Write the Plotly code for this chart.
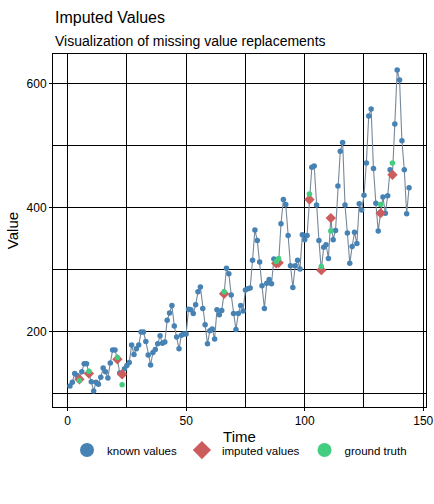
import plotly.graph_objects as go

# AirPassengers-like series with gaps (None = missing)
time = list(range(1, 145))
known = [
    112, 118, 132, 129, None, 135, 148, 148, None, 119, 104, 118,
    115, 126, 141, 135, 125, 149, 170, 170, None, 133, None, 140,
    145, 150, 178, 163, 172, 178, 199, 199, 184, 162, 146, 166,
    171, 180, 193, 181, 183, 218, 230, 242, 209, 191, 172, 194,
    196, 196, 236, 235, 229, 243, 264, 272, 237, 211, 180, 201,
    204, 188, 235, 227, 234, None, 302, 293, 259, 229, 203, 229,
    242, 233, 267, 269, 270, 315, 364, 347, 312, 274, 237, 278,
    284, 277, 317, None, None, 374, 413, 405, 355, 306, 271, 306,
    315, 301, 356, 348, 355, None, 465, 467, 404, 347, None, 336,
    340, 318, None, 348, 363, 435, 491, 505, 404, 359, 310, 337,
    360, 342, 406, 396, 420, 472, 548, 559, 463, 407, 362, None,
    417, 391, 419, 461, None, 535, 622, 606, 508, 461, 390, 432,
]
missing_idx = [5, 9, 21, 23, 66, 88, 89, 102, 107, 111, 132, 137]
imputed = [123, 132, 155, 131, 261, 310, 311, 413, 299, 383, 391, 453]
truth = [121, 136, 158, 114, 264, 313, 318, 422, 305, 362, 405, 472]

# full series after imputation, used for the connecting line
filled = list(known)
for i, v in zip(missing_idx, imputed):
    filled[i - 1] = v

FONT = "Liberation Sans"

fig = go.Figure()

fig.add_trace(go.Scatter(
    x=time, y=filled, mode="lines",
    line=dict(color="#778899", width=1.1),
    showlegend=False, hoverinfo="skip",
))
fig.add_trace(go.Scatter(
    x=time, y=known, mode="markers",
    marker=dict(color="#4682B4", size=5.5),
    showlegend=False,
))
fig.add_trace(go.Scatter(
    x=missing_idx, y=imputed, mode="markers",
    marker=dict(color="#CD5C5C", size=8, symbol="diamond"),
    showlegend=False,
))
fig.add_trace(go.Scatter(
    x=missing_idx, y=truth, mode="markers",
    marker=dict(color="#43CD80", size=5.5),
    showlegend=False,
))

# legend entries with larger keys
legend_items = [
    ("known values", "#4682B4", "circle"),
    ("imputed values", "#CD5C5C", "diamond"),
    ("ground truth", "#43CD80", "circle"),
]
for name, color, symbol in legend_items:
    fig.add_trace(go.Scatter(
        x=[None], y=[None], mode="markers", name=name,
        marker=dict(color=color, size=14, symbol=symbol),
    ))

axis_common = dict(
    showline=True, mirror=True, linecolor="black", linewidth=1,
    showgrid=True, gridcolor="black", gridwidth=1,
    zeroline=False, automargin=False,
    ticks="outside", ticklen=3, tickcolor="black",
    tickfont=dict(family=FONT, size=12, color="black"),
)

fig.update_xaxes(
    range=[-6.15, 151.15], tick0=0, dtick=50,
    minor=dict(dtick=25, showgrid=True, gridcolor="black", gridwidth=1),
    title=dict(text="Time", font=dict(family=FONT, size=15, color="black"), standoff=4),
    **axis_common,
)
fig.update_yaxes(
    range=[78.1, 647.9], tick0=0, dtick=200,
    minor=dict(dtick=100, showgrid=True, gridcolor="black", gridwidth=1),
    title=dict(text="Value", font=dict(family=FONT, size=15, color="black"), standoff=4),
    **axis_common,
)

fig.update_layout(
    width=434, height=504,
    margin=dict(l=53, r=8, t=54, b=97, autoexpand=False),
    plot_bgcolor="white", paper_bgcolor="white",
    font=dict(family=FONT, color="black"),
    legend=dict(
        orientation="h", x=0.5, xanchor="center", y=-0.122, yanchor="middle",
        font=dict(family=FONT, size=11.5, color="black"),
        itemwidth=30,
    ),
    annotations=[
        dict(text="Imputed Values", xref="paper", yref="paper", x=0, y=1.103,
             xanchor="left", yanchor="middle", showarrow=False,
             font=dict(family=FONT, size=16, color="black")),
        dict(text="Visualization of missing value replacements", xref="paper", yref="paper",
             x=0, y=1.037, xanchor="left", yanchor="middle", showarrow=False,
             font=dict(family=FONT, size=14, color="black")),
    ],
)

# drop the default page margin so the figure sits at the window corner
fig.write_html("out.html", config={"displayModeBar": False},
               post_script="document.body.style.margin='0';")
